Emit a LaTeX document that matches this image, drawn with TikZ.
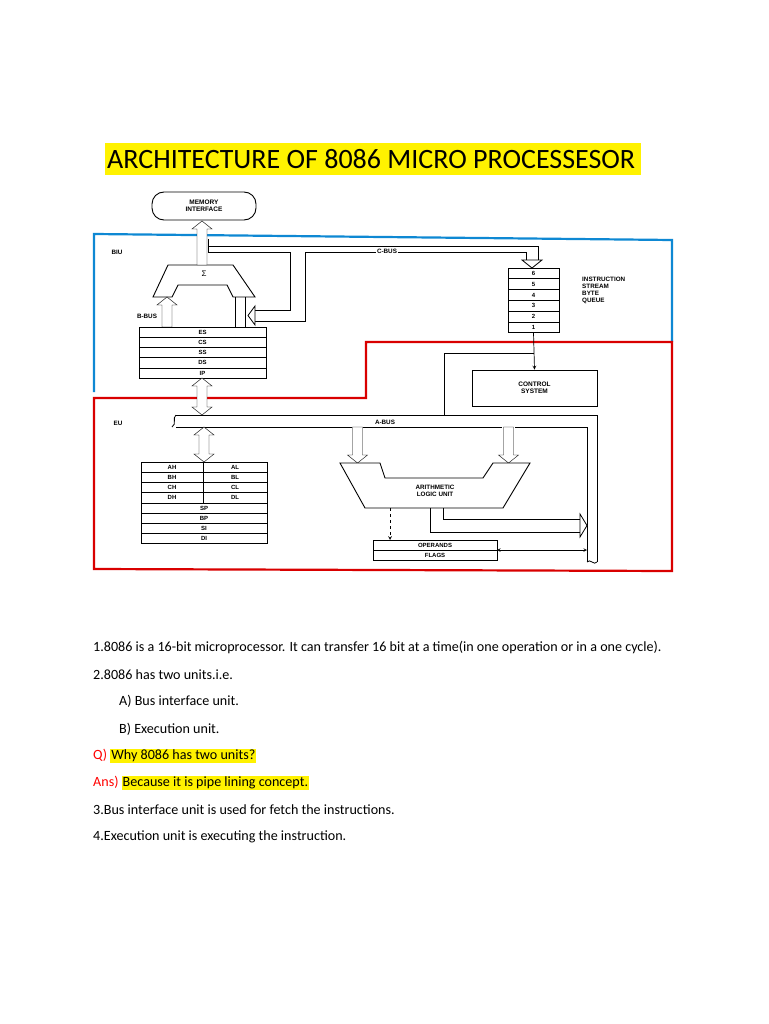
\documentclass[tikz,border=0pt]{standalone}
\usepackage{fontspec}
\setmainfont{Carlito}
\newfontfamily\diafont{Liberation Sans}
\usepackage{tikz}
\usetikzlibrary{positioning}
% fat bus arrows (x centre, y from, y to)
\newcommand{\fatdown}[3]{\draw[fill=white] ({#1-5},#2) -- ({#1+5},#2) -- ({#1+5},{#3-8}) -- ({#1+10},{#3-8}) -- (#1,#3) -- ({#1-10},{#3-8}) -- ({#1-5},{#3-8}) -- cycle;}
\newcommand{\fatup}[3]{\draw[fill=white] ({#1-5},#2) -- ({#1+5},#2) -- ({#1+5},{#3+8}) -- ({#1+10},{#3+8}) -- (#1,#3) -- ({#1-10},{#3+8}) -- ({#1-5},{#3+8}) -- cycle;}
\newcommand{\fatboth}[3]{\draw[fill=white] (#1,#2) -- ({#1+10},{#2+8}) -- ({#1+5},{#2+8}) -- ({#1+5},{#3-8}) -- ({#1+10},{#3-8}) -- (#1,#3) -- ({#1-10},{#3-8}) -- ({#1-5},{#3-8}) -- ({#1-5},{#2+8}) -- ({#1-10},{#2+8}) -- cycle;}
\begin{document}
\begin{tikzpicture}[x=1pt,y=-1pt,
  lbl/.style={font=\diafont\bfseries\fontsize{6.3}{7}\selectfont, align=left, inner sep=0pt},
  reg/.style={draw, line width=0.8pt, minimum height=10.2pt, inner sep=0pt, outer sep=0pt, font=\diafont\bfseries\fontsize{6}{6.5}\selectfont},
  box/.style={draw, line width=0.9pt, inner sep=0pt, align=center, font=\diafont\bfseries\fontsize{6.5}{7.5}\selectfont},
  body/.style={anchor=west, font=\fontsize{14.1}{16}\selectfont, inner sep=0pt},
  node distance=0pt]
\useasboundingbox (0,0) rectangle (768,1024);
\fill[yellow] (105,143) rectangle (641,175);
\node[anchor=west, font=\fontsize{28}{30}\selectfont, inner sep=0pt] (title) at (107,159) {ARCHITECTURE OF 8086 MICRO PROCESSESOR};
% unit borders
\draw[cyan!70!blue, line width=2.2pt] (94,392) -- (94,234) -- (672,240) -- (672,342);
\draw[red!85!black, line width=2.2pt] (94,398) -- (366,398) -- (366,342) -- (672,342) -- (672,571) -- (94,569) -- cycle;
\node[lbl] (biu) at (117,252) {BIU};
\node[lbl] (eu) at (118,423) {EU};
% memory interface and sigma
\node[box, rounded corners=12pt, minimum width=104pt, minimum height=28pt] (mem) at (204,206) {MEMORY\\INTERFACE};
\draw[line width=0.9pt, fill=white] (168,265) -- (233,265) -- (255,297) -- (233,297) -- (227,285) -- (178,285) -- (172,297) -- (153,297) -- cycle;
\node[lbl, font=\diafont\fontsize{8}{8}\selectfont] (sigma) at (204,274) {Σ};
\fatup{202}{265}{221}
% C-bus
\draw[line width=0.8pt] (208,246) -- (538,246) -- (538,260);
\draw[line width=0.8pt] (305,252) -- (526,252) -- (526,260);
\draw[line width=0.8pt] (208,239) -- (208,252) -- (290,252) -- (290,310) -- (255,310);
\draw[line width=0.8pt] (305,252) -- (305,321) -- (255,321);
\draw[line width=0.8pt, fill=white] (255,306) -- (248,315.5) -- (255,325) -- cycle;
\draw[line width=0.8pt, fill=white] (522,260) -- (542,260) -- (532,268) -- cycle;
\node[lbl, fill=white, inner sep=1pt] (cbus) at (387,251) {C-BUS};
% segment registers
\node[lbl] (bbus) at (147,316) {B-BUS};
\fatup{167}{327}{297}
\draw[line width=0.8pt] (235,297) -- (235,327) (245,297) -- (245,327);
\foreach \n [count=\i] in {ES,CS,SS,DS,IP}
  \node[reg, minimum width=127pt] (seg\i) at (202.5,{322.1+\i*10.2}) {\n};
% queue
\foreach \n [count=\i] in {6,5,4,3,2,1}
  \node[reg, minimum width=51pt, minimum height=10.8pt] (q\i) at (533.5,{262.6+\i*10.8}) {\n};
\node[lbl, anchor=north west] (isq) at (582,277) {INSTRUCTION\\STREAM\\BYTE\\QUEUE};
% control system
\node[box, minimum width=125pt, minimum height=36pt] (ctrl) at (534.5,388) {CONTROL\\SYSTEM};
\draw[->, >=stealth, line width=0.7pt] (q6.south) -- (ctrl.north);
\draw[line width=0.7pt] (534,353) -- (444,353) -- (444,415);
% A-bus
\draw[line width=0.8pt] (176,415) -- (597,415) -- (597,562);
\draw[line width=0.8pt] (176,427) -- (352,427) (363,427) -- (502,427) (515,427) -- (587,427) -- (587,562);
\draw[line width=0.8pt] (176,415) .. controls (172,418) and (177,424) .. (172,427);
\draw[line width=0.8pt] (587,562) .. controls (590,558) and (594,566) .. (597,562);
\node[lbl] (abus) at (385,422) {A-BUS};
\fatboth{202}{378}{415}
\fatboth{204}{427}{462}
\fatdown{357.5}{427}{463}
\fatdown{508.5}{427}{463}
% general registers
\foreach \h/\l [count=\i] in {AH/AL,BH/BL,CH/CL,DH/DL} {
  \node[reg, minimum width=62pt] (h\i) at (172,{457.1+\i*10.2}) {\h};
  \node[reg, minimum width=64pt] (l\i) at (235,{457.1+\i*10.2}) {\l};}
\foreach \n [count=\i] in {SP,BP,SI,DI}
  \node[reg, minimum width=126pt] (gp\i) at (204,{497.9+\i*10.2}) {\n};
% ALU
\draw[line width=0.9pt, fill=white] (340,463) -- (380,463) -- (385,478) -- (483,478) -- (493,463) -- (530,463) -- (503,508) -- (365,508) -- cycle;
\node[lbl, align=center] (alu) at (435,491) {ARITHMETIC\\LOGIC UNIT};
% operands and flags
\node[reg, minimum width=124pt, minimum height=10pt] (opnd) at (435,545) {OPERANDS};
\node[reg, minimum width=124pt, minimum height=10pt, below=of opnd] (flags) {FLAGS};
\draw[->, >=stealth, dashed, line width=0.7pt] (390,508) -- (opnd.north -| 390,0);
\draw[line width=0.8pt] (430,508) -- (430,532) -- (580,532) (443,508) -- (443,519) -- (580,519);
\draw[line width=0.8pt, fill=white] (580,514) -- (587,525.5) -- (580,537) -- cycle;
\draw[<->, >=stealth, line width=0.6pt] (flags.north east) -- (587,550);
% text
\node[body] (t1) at (93,647) {1.8086 is a 16-bit microprocessor. It can transfer 16 bit at a time(in one operation or in a one cycle).};
\node[body] (t2) at (93,675) {2.8086 has two units.i.e.};
\node[body] (t3) at (119,701) {A) Bus interface unit.};
\node[body] (t4) at (119,729) {B) Execution unit.};
\node[body] (t5) at (93,756) {\textcolor{red}{Q)} {\setlength{\fboxsep}{1pt}\colorbox{yellow}{Why 8086 has two units?}}};
\node[body] (t6) at (93,783) {\textcolor{red}{Ans)} {\setlength{\fboxsep}{1pt}\colorbox{yellow}{Because it is pipe lining concept.}}};
\node[body] (t7) at (93,810) {3.Bus interface unit is used for fetch the instructions.};
\node[body] (t8) at (93,837) {4.Execution unit is executing the instruction.};
\end{tikzpicture}
\end{document}
